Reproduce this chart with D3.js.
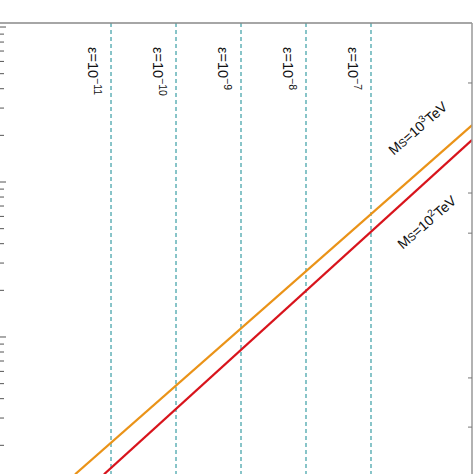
<!DOCTYPE html>
<html><head><meta charset="utf-8">
<script src="https://cdn.jsdelivr.net/npm/d3@7"></script>
<style>body{margin:0;background:#fff}</style></head>
<body><svg id="c" width="474" height="474"></svg>
<script>
const epsLines = [1e-11, 1e-10, 1e-9, 1e-8, 1e-7];
const epsLabels = ["-11", "-10", "-9", "-8", "-7"];
const orangeLine = [[2.8e-12, 0.13], [3.6e-6, 23.3]];
const redLine = [[7.8e-12, 0.13], [3.6e-6, 18.7]];
const leftTicks = [0.2,0.3,0.4,0.5,0.6,0.7,0.8,0.9,1,2,3,4,5,6,7,8,9,10,20,30,40,50,60,70,80,90,100];
const rightTicks = [86.7, 62.3, 53.4, 21.3, 10.4];

const FONT = "'Liberation Sans', Arial, sans-serif";
const svg = d3.select("#c");
const L = 0, R = 472, T = 23, B = 474;
const x = d3.scaleLog().domain([Math.pow(10,-12.708), Math.pow(10,-5.446)]).range([L, R]);
const y = d3.scaleLog().domain([Math.pow(10,-0.884), Math.pow(10,2.026)]).range([B, T]);
const yr = d3.scaleLinear().domain([0, 100]).range([B, T]);

svg.append("clipPath").attr("id","clip").append("rect").attr("x",L).attr("y",T).attr("width",R-L).attr("height",B-T);

svg.selectAll(".v").data(epsLines).join("line")
  .attr("x1", d=>x(d)).attr("x2", d=>x(d)).attr("y1", T).attr("y2", B)
  .attr("stroke", "#3a9ea5").attr("stroke-width", 1.2).attr("stroke-dasharray", "4,3");

epsLines.forEach((d,i)=>{
  const t = svg.append("text").attr("transform", `translate(${x(d)-23},47) rotate(90)`)
    .attr("font-family",FONT).attr("font-size",14.5).attr("fill","#111");
  t.append("tspan").text("\u03b5=10");
  t.append("tspan").attr("dy",-6).attr("font-size",10.5).text(epsLabels[i].replace("-","\u2212"));
});

const line = d3.line().x(d=>x(d[0])).y(d=>y(d[1]));
const g = svg.append("g").attr("clip-path","url(#clip)");
g.append("path").attr("d", line(orangeLine)).attr("fill","none").attr("stroke","#ea9318").attr("stroke-width",2.2);
g.append("path").attr("d", line(redLine)).attr("fill","none").attr("stroke","#d8141c").attr("stroke-width",2.2);

function mlabel(cx, cy, exp){
  const t = svg.append("text").attr("transform",`translate(${cx},${cy}) rotate(-41)`)
    .attr("text-anchor","middle").attr("font-family",FONT).attr("font-size",14).attr("fill","#111");
  t.append("tspan").text("M");
  t.append("tspan").attr("font-size",11).text("S");
  t.append("tspan").text("=10");
  t.append("tspan").attr("dy",-6).attr("font-size",10).text(exp);
  t.append("tspan").attr("dy",6).text("TeV");
}
mlabel(421, 132, "3");
mlabel(430, 226, "2");

svg.append("line").attr("x1",L).attr("x2",R).attr("y1",T).attr("y2",T).attr("stroke","#888").attr("stroke-width",1.5);
svg.append("line").attr("x1",R).attr("x2",R).attr("y1",T).attr("y2",B).attr("stroke","#999").attr("stroke-width",1.5);

svg.selectAll(".lt").data(leftTicks.filter(d=>y(d)>=T && y(d)<=B)).join("line")
  .attr("x1",L).attr("x2",d=>[1,10,100].includes(d)?L+6:L+4).attr("y1",d=>y(d)).attr("y2",d=>y(d))
  .attr("stroke","#555").attr("stroke-width",1);
svg.selectAll(".rt").data(rightTicks).join("line")
  .attr("x1",R).attr("x2",R-4).attr("y1",d=>yr(d)).attr("y2",d=>yr(d))
  .attr("stroke","#777").attr("stroke-width",1);
</script></body></html>
